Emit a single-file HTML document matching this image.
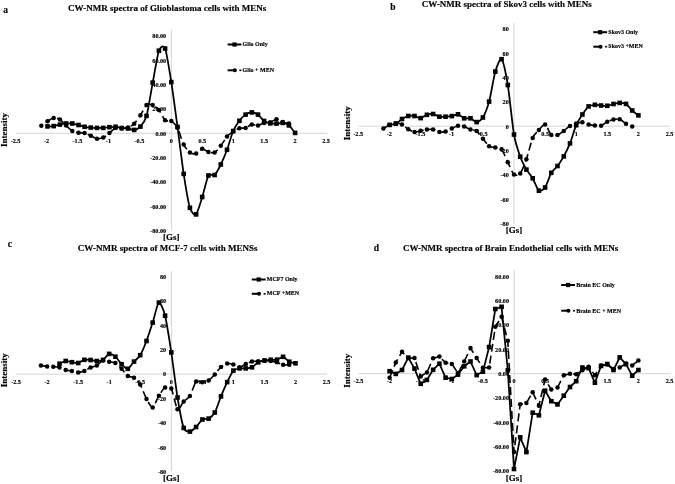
<!DOCTYPE html>
<html><head><meta charset="utf-8"><style>
html,body{margin:0;padding:0;background:#fff;}
svg{display:block;filter:blur(0.3px);}
text{font-family:"Liberation Serif","Times New Roman",serif;font-weight:bold;fill:#000;stroke:#000;stroke-width:0.15px;}
.t{font-size:9px;}
.p{font-size:9.5px;}
.tk{font-size:6.2px;}
.lg{font-size:6px;}
.ax{stroke:#d4d4d4;stroke-width:1;fill:none;}
.s1{stroke:#000;stroke-width:1.75;fill:none;stroke-linejoin:round;}
.s2{stroke:#000;stroke-width:1.6;fill:none;stroke-dasharray:8 4;stroke-linejoin:round;}
</style></head><body>
<svg width="675" height="484" viewBox="0 0 675 484">
<rect width="675" height="484" fill="#fff"/>

<text class="p" transform="translate(3.30,12.80) scale(1,1.0)">a</text>
<text class="t" transform="translate(68.00,10.90) scale(1,1.0)">CW-NMR spectra of Glioblastoma cells with MENs</text>
<text class="p" transform="translate(390.20,9.50) scale(1,1.0)">b</text>
<text class="t" transform="translate(421.70,7.40) scale(1,1.0)">CW-NMR spectra of Skov3 cells with MENs</text>
<text class="p" transform="translate(7.80,247.10) scale(1,1.0)">c</text>
<text class="t" transform="translate(77.80,251.20) scale(1,1.0)">CW-NMR spectra of MCF-7 cells with MENSs</text>
<text class="p" transform="translate(373.80,250.80) scale(1,1.0)">d</text>
<text class="t" transform="translate(402.90,250.80) scale(1,1.0)">CW-NMR spectra of Brain Endothelial cells with MENs</text>
<g id="chart-a"><line class="ax" x1="15.8" y1="133.3" x2="327.4" y2="133.3"/>
<line class="ax" x1="171.4" y1="29.6" x2="171.4" y2="230.1"/>
<text class="tk" text-anchor="end" transform="translate(166.20,38.25) scale(1,1.08)">80.00</text>
<text class="tk" text-anchor="end" transform="translate(166.20,62.60) scale(1,1.08)">60.00</text>
<text class="tk" text-anchor="end" transform="translate(166.20,86.95) scale(1,1.08)">40.00</text>
<text class="tk" text-anchor="end" transform="translate(166.20,111.30) scale(1,1.08)">20.00</text>
<text class="tk" text-anchor="end" transform="translate(166.20,135.65) scale(1,1.08)">0.00</text>
<text class="tk" text-anchor="end" transform="translate(166.20,160.00) scale(1,1.08)">-20.00</text>
<text class="tk" text-anchor="end" transform="translate(166.20,184.35) scale(1,1.08)">-40.00</text>
<text class="tk" text-anchor="end" transform="translate(166.20,208.70) scale(1,1.08)">-60.00</text>
<text class="tk" text-anchor="end" transform="translate(166.20,233.05) scale(1,1.08)">-80.00</text>
<text class="tk" text-anchor="middle" transform="translate(15.55,142.80) scale(1,1.08)">-2.5</text>
<text class="tk" text-anchor="middle" transform="translate(46.50,142.80) scale(1,1.08)">-2</text>
<text class="tk" text-anchor="middle" transform="translate(77.45,142.80) scale(1,1.08)">-1.5</text>
<text class="tk" text-anchor="middle" transform="translate(108.40,142.80) scale(1,1.08)">-1</text>
<text class="tk" text-anchor="middle" transform="translate(139.35,142.80) scale(1,1.08)">-0.5</text>
<text class="tk" text-anchor="middle" transform="translate(171.30,142.80) scale(1,1.08)">0</text>
<text class="tk" text-anchor="middle" transform="translate(202.25,142.80) scale(1,1.08)">0.5</text>
<text class="tk" text-anchor="middle" transform="translate(233.20,142.80) scale(1,1.08)">1</text>
<text class="tk" text-anchor="middle" transform="translate(264.15,142.80) scale(1,1.08)">1.5</text>
<text class="tk" text-anchor="middle" transform="translate(295.10,142.80) scale(1,1.08)">2</text>
<text class="tk" text-anchor="middle" transform="translate(326.05,142.80) scale(1,1.08)">2.5</text>
<path class="s2" style="stroke-dashoffset:6" d="M41.31,125.7 C42.05,125.17 46.01,122.24 47.5,121.3 C48.99,120.36 52.2,118.13 53.69,117.9 C55.18,117.67 58.39,118.49 59.88,119.4 C61.37,120.31 64.58,124.12 66.07,125.5 C67.56,126.88 70.77,130.04 72.26,130.9 C73.75,131.76 76.96,132.44 78.45,132.7 C79.94,132.96 83.15,132.74 84.64,133.1 C86.13,133.46 89.34,135.03 90.83,135.7 C92.32,136.37 95.53,138.47 97.02,138.7 C98.51,138.93 101.72,138.27 103.21,137.6 C104.7,136.93 107.91,134.25 109.4,133.1 C110.89,131.95 114.1,128.55 115.59,128 C117.08,127.45 120.29,128.56 121.78,128.5 C123.27,128.44 126.48,128.06 127.97,127.5 C129.46,126.94 132.67,125.26 134.16,123.8 C135.65,122.34 138.86,117.56 140.35,115.3 C141.84,113.04 145.05,106.24 146.54,105 C148.03,103.76 151.24,104.41 152.73,105 C154.22,105.59 157.43,108.06 158.92,109.9 C160.41,111.74 163.62,118.96 165.11,120.3 C166.6,121.64 169.81,120.2 171.3,121.1 C172.79,122 176,124.98 177.49,127.8 C178.98,130.62 182.19,141.64 183.68,144.6 C185.17,147.56 188.38,151.43 189.87,152.5 C191.36,153.57 194.57,153.94 196.06,153.5 C197.55,153.06 200.76,148.98 202.25,148.8 C203.74,148.62 206.95,151.56 208.44,152 C209.93,152.44 213.14,153.24 214.63,152.5 C216.12,151.76 219.33,147.71 220.82,145.8 C222.31,143.89 225.52,138.3 227.01,136.6 C228.5,134.9 231.71,132.6 233.2,131.6 C234.69,130.6 237.9,128.74 239.39,128.3 C240.88,127.86 244.09,128.36 245.58,127.9 C247.07,127.44 250.28,124.8 251.77,124.5 C253.26,124.2 256.47,125.59 257.96,125.4 C259.45,125.21 262.66,123.28 264.15,122.9 C265.64,122.52 268.85,122.64 270.34,122.2 C271.83,121.76 275.04,119.21 276.53,119.2 C278.02,119.19 281.23,121.57 282.72,122.1 C284.21,122.63 288.17,123.42 288.91,123.6"/>
<path class="s1" d="M47.5,126.4 C48.24,126.36 52.2,126.32 53.69,126.1 C55.18,125.88 58.39,124.91 59.88,124.6 C61.37,124.29 64.58,123.63 66.07,123.5 C67.56,123.37 70.77,123.32 72.26,123.5 C73.75,123.68 76.96,124.6 78.45,125 C79.94,125.4 83.15,126.49 84.64,126.8 C86.13,127.11 89.34,127.47 90.83,127.6 C92.32,127.73 95.53,127.86 97.02,127.9 C98.51,127.94 101.72,127.98 103.21,127.9 C104.7,127.82 107.91,127.33 109.4,127.2 C110.89,127.07 114.1,126.7 115.59,126.8 C117.08,126.9 120.29,127.8 121.78,128 C123.27,128.2 126.48,128.27 127.97,128.5 C129.46,128.73 132.67,130.13 134.16,129.9 C135.65,129.67 138.86,128.28 140.35,126.6 C141.84,124.92 145.05,121.18 146.54,115.9 C148.03,110.62 151.24,90.42 152.73,82.6 C154.22,74.78 157.43,54.79 158.92,50.7 C160.41,46.61 163.62,44.73 165.11,48.5 C166.6,52.27 169.81,72.7 171.3,82.1 C172.79,91.5 176,115.78 177.49,126.8 C178.98,137.82 182.19,164.18 183.68,173.9 C185.17,183.62 188.38,202.94 189.87,207.8 C191.36,212.66 194.57,215.7 196.06,214.4 C197.55,213.1 200.76,201.67 202.25,197 C203.74,192.33 206.95,178.14 208.44,175.5 C209.93,172.86 213.14,176.32 214.63,175 C216.12,173.68 219.33,167.52 220.82,164.5 C222.31,161.48 225.52,153.82 227.01,149.8 C228.5,145.78 231.71,134.48 233.2,131 C234.69,127.52 237.9,122.77 239.39,120.8 C240.88,118.83 244.09,115.61 245.58,114.6 C247.07,113.59 250.28,112.4 251.77,112.4 C253.26,112.4 256.47,113.57 257.96,114.6 C259.45,115.63 262.66,119.94 264.15,121 C265.64,122.06 268.85,123.09 270.34,123.4 C271.83,123.71 275.04,123.66 276.53,123.6 C278.02,123.54 281.23,122.68 282.72,122.9 C284.21,123.12 287.42,124.2 288.91,125.4 C290.4,126.6 294.36,132 295.1,132.9"/>
<g fill="#000"><circle cx="41.3" cy="125.7" r="2.25"/><circle cx="47.5" cy="121.3" r="2.25"/><circle cx="53.7" cy="117.9" r="2.25"/><circle cx="59.9" cy="119.4" r="2.25"/><circle cx="66.1" cy="125.5" r="2.25"/><circle cx="72.3" cy="130.9" r="2.25"/><circle cx="78.5" cy="132.7" r="2.25"/><circle cx="84.6" cy="133.1" r="2.25"/><circle cx="90.8" cy="135.7" r="2.25"/><circle cx="97.0" cy="138.7" r="2.25"/><circle cx="103.2" cy="137.6" r="2.25"/><circle cx="109.4" cy="133.1" r="2.25"/><circle cx="115.6" cy="128.0" r="2.25"/><circle cx="121.8" cy="128.5" r="2.25"/><circle cx="128.0" cy="127.5" r="2.25"/><circle cx="134.2" cy="123.8" r="2.25"/><circle cx="140.4" cy="115.3" r="2.25"/><circle cx="146.5" cy="105.0" r="2.25"/><circle cx="152.7" cy="105.0" r="2.25"/><circle cx="158.9" cy="109.9" r="2.25"/><circle cx="165.1" cy="120.3" r="2.25"/><circle cx="171.3" cy="121.1" r="2.25"/><circle cx="177.5" cy="127.8" r="2.25"/><circle cx="183.7" cy="144.6" r="2.25"/><circle cx="189.9" cy="152.5" r="2.25"/><circle cx="196.1" cy="153.5" r="2.25"/><circle cx="202.2" cy="148.8" r="2.25"/><circle cx="208.4" cy="152.0" r="2.25"/><circle cx="214.6" cy="152.5" r="2.25"/><circle cx="220.8" cy="145.8" r="2.25"/><circle cx="227.0" cy="136.6" r="2.25"/><circle cx="233.2" cy="131.6" r="2.25"/><circle cx="239.4" cy="128.3" r="2.25"/><circle cx="245.6" cy="127.9" r="2.25"/><circle cx="251.8" cy="124.5" r="2.25"/><circle cx="258.0" cy="125.4" r="2.25"/><circle cx="264.1" cy="122.9" r="2.25"/><circle cx="270.3" cy="122.2" r="2.25"/><circle cx="276.5" cy="119.2" r="2.25"/><circle cx="282.7" cy="122.1" r="2.25"/><circle cx="288.9" cy="123.6" r="2.25"/></g>
<g fill="#000"><rect x="45.2" y="124.1" width="4.6" height="4.6"/><rect x="51.4" y="123.8" width="4.6" height="4.6"/><rect x="57.6" y="122.3" width="4.6" height="4.6"/><rect x="63.8" y="121.2" width="4.6" height="4.6"/><rect x="70.0" y="121.2" width="4.6" height="4.6"/><rect x="76.2" y="122.7" width="4.6" height="4.6"/><rect x="82.3" y="124.5" width="4.6" height="4.6"/><rect x="88.5" y="125.3" width="4.6" height="4.6"/><rect x="94.7" y="125.6" width="4.6" height="4.6"/><rect x="100.9" y="125.6" width="4.6" height="4.6"/><rect x="107.1" y="124.9" width="4.6" height="4.6"/><rect x="113.3" y="124.5" width="4.6" height="4.6"/><rect x="119.5" y="125.7" width="4.6" height="4.6"/><rect x="125.7" y="126.2" width="4.6" height="4.6"/><rect x="131.9" y="127.6" width="4.6" height="4.6"/><rect x="138.1" y="124.3" width="4.6" height="4.6"/><rect x="144.2" y="113.6" width="4.6" height="4.6"/><rect x="150.4" y="80.3" width="4.6" height="4.6"/><rect x="156.6" y="48.4" width="4.6" height="4.6"/><rect x="162.8" y="46.2" width="4.6" height="4.6"/><rect x="169.0" y="79.8" width="4.6" height="4.6"/><rect x="175.2" y="124.5" width="4.6" height="4.6"/><rect x="181.4" y="171.6" width="4.6" height="4.6"/><rect x="187.6" y="205.5" width="4.6" height="4.6"/><rect x="193.8" y="212.1" width="4.6" height="4.6"/><rect x="199.9" y="194.7" width="4.6" height="4.6"/><rect x="206.1" y="173.2" width="4.6" height="4.6"/><rect x="212.3" y="172.7" width="4.6" height="4.6"/><rect x="218.5" y="162.2" width="4.6" height="4.6"/><rect x="224.7" y="147.5" width="4.6" height="4.6"/><rect x="230.9" y="128.7" width="4.6" height="4.6"/><rect x="237.1" y="118.5" width="4.6" height="4.6"/><rect x="243.3" y="112.3" width="4.6" height="4.6"/><rect x="249.5" y="110.1" width="4.6" height="4.6"/><rect x="255.7" y="112.3" width="4.6" height="4.6"/><rect x="261.8" y="118.7" width="4.6" height="4.6"/><rect x="268.0" y="121.1" width="4.6" height="4.6"/><rect x="274.2" y="121.3" width="4.6" height="4.6"/><rect x="280.4" y="120.6" width="4.6" height="4.6"/><rect x="286.6" y="123.1" width="4.6" height="4.6"/><rect x="292.8" y="130.6" width="4.6" height="4.6"/></g>
<line x1="227.6" y1="44.5" x2="241.4" y2="44.5" stroke="#000" stroke-width="2"/>
<rect x="232.4" y="42.4" width="4.2" height="4.2" fill="#000"/>
<text class="lg" transform="translate(242.60,46.10) scale(1,1.08)">Glio Only</text>
<line x1="227.6" y1="70.3" x2="234.6" y2="70.3" stroke="#000" stroke-width="2"/>
<line x1="239.4" y1="70.3" x2="241.4" y2="70.3" stroke="#000" stroke-width="1.6"/>
<circle cx="234.8" cy="70.3" r="2.05" fill="#000"/>
<text class="lg" transform="translate(242.60,71.90) scale(1,1.08)">Glio + MEN</text>
<text class="t" text-anchor="middle" transform="translate(171.30,240.30) scale(1,1.0)">[Gs]</text>
<text class="t" transform="translate(7.0,130) rotate(-90)" text-anchor="middle">Intensity</text></g>
<g id="chart-b"><line class="ax" x1="358.5" y1="126.2" x2="670" y2="126.2"/>
<line class="ax" x1="514.0" y1="22.8" x2="514.0" y2="224.5"/>
<text class="tk" text-anchor="end" transform="translate(508.80,31.15) scale(1,1.08)">80</text>
<text class="tk" text-anchor="end" transform="translate(508.80,55.50) scale(1,1.08)">60</text>
<text class="tk" text-anchor="end" transform="translate(508.80,79.85) scale(1,1.08)">40</text>
<text class="tk" text-anchor="end" transform="translate(508.80,104.20) scale(1,1.08)">20</text>
<text class="tk" text-anchor="end" transform="translate(508.80,128.55) scale(1,1.08)">0</text>
<text class="tk" text-anchor="end" transform="translate(508.80,152.90) scale(1,1.08)">-20</text>
<text class="tk" text-anchor="end" transform="translate(508.80,177.25) scale(1,1.08)">-40</text>
<text class="tk" text-anchor="end" transform="translate(508.80,201.60) scale(1,1.08)">-60</text>
<text class="tk" text-anchor="end" transform="translate(508.80,225.95) scale(1,1.08)">-80</text>
<text class="tk" text-anchor="middle" transform="translate(358.20,135.70) scale(1,1.08)">-2.5</text>
<text class="tk" text-anchor="middle" transform="translate(389.30,135.70) scale(1,1.08)">-2</text>
<text class="tk" text-anchor="middle" transform="translate(420.40,135.70) scale(1,1.08)">-1.5</text>
<text class="tk" text-anchor="middle" transform="translate(451.50,135.70) scale(1,1.08)">-1</text>
<text class="tk" text-anchor="middle" transform="translate(482.60,135.70) scale(1,1.08)">-0.5</text>
<text class="tk" text-anchor="middle" transform="translate(514.00,135.70) scale(1,1.08)">0</text>
<text class="tk" text-anchor="middle" transform="translate(545.10,135.70) scale(1,1.08)">0.5</text>
<text class="tk" text-anchor="middle" transform="translate(576.20,135.70) scale(1,1.08)">1</text>
<text class="tk" text-anchor="middle" transform="translate(607.30,135.70) scale(1,1.08)">1.5</text>
<text class="tk" text-anchor="middle" transform="translate(638.40,135.70) scale(1,1.08)">2</text>
<text class="tk" text-anchor="middle" transform="translate(669.50,135.70) scale(1,1.08)">2.5</text>
<path class="s2" style="stroke-dashoffset:0" d="M383.38,128.4 C384.13,127.99 388.11,125.61 389.6,125 C391.09,124.39 394.33,123.37 395.82,123.3 C397.31,123.23 400.55,123.68 402.04,124.4 C403.53,125.12 406.77,128.4 408.26,129.3 C409.75,130.2 412.99,131.72 414.48,131.9 C415.97,132.08 419.21,131.08 420.7,130.8 C422.19,130.52 425.43,129.77 426.92,129.6 C428.41,129.43 431.65,129.12 433.14,129.4 C434.63,129.68 437.87,131.64 439.36,131.9 C440.85,132.16 444.09,132.01 445.58,131.6 C447.07,131.19 450.31,129.2 451.8,128.5 C453.29,127.8 456.53,126.03 458.02,125.8 C459.51,125.57 462.75,126.16 464.24,126.6 C465.73,127.04 468.97,128.97 470.46,129.5 C471.95,130.03 475.19,129.9 476.68,131 C478.17,132.1 481.41,136.86 482.9,138.7 C484.39,140.54 487.63,145.24 489.12,146.3 C490.61,147.36 493.85,147.14 495.34,147.5 C496.83,147.86 500.07,147.54 501.56,149.3 C503.05,151.06 506.29,159.16 507.78,162.2 C509.27,165.24 512.51,173.26 514,174.6 C515.49,175.94 518.73,175.25 520.22,173.4 C521.71,171.55 524.95,163.46 526.44,159.2 C527.93,154.94 531.17,141.42 532.66,137.9 C534.15,134.38 537.39,131.51 538.88,129.9 C540.37,128.29 543.61,123.89 545.1,124.5 C546.59,125.11 549.83,133.74 551.32,135 C552.81,136.26 556.05,135.49 557.54,135 C559.03,134.51 562.27,131.99 563.76,130.9 C565.25,129.81 568.49,126.78 569.98,125.9 C571.47,125.02 574.71,124.03 576.2,123.6 C577.69,123.17 580.93,122.19 582.42,122.3 C583.91,122.41 587.15,124.1 588.64,124.5 C590.13,124.9 593.37,125.44 594.86,125.6 C596.35,125.76 599.59,126.27 601.08,125.8 C602.57,125.33 605.81,122.46 607.3,121.7 C608.79,120.94 612.03,119.79 613.52,119.5 C615.01,119.21 618.25,118.8 619.74,119.3 C621.23,119.8 624.47,122.82 625.96,123.7 C627.45,124.58 631.43,126.25 632.18,126.6"/>
<path class="s1" d="M389.6,124.9 C390.35,124.76 394.33,124.41 395.82,123.7 C397.31,122.99 400.55,119.92 402.04,119 C403.53,118.08 406.77,116.36 408.26,116 C409.75,115.64 412.99,115.75 414.48,116 C415.97,116.25 419.21,118.24 420.7,118.1 C422.19,117.96 425.43,115.29 426.92,114.8 C428.41,114.31 431.65,113.77 433.14,114 C434.63,114.23 437.87,116.38 439.36,116.7 C440.85,117.02 444.09,116.77 445.58,116.7 C447.07,116.63 450.31,116.39 451.8,116.1 C453.29,115.81 456.53,114.04 458.02,114.3 C459.51,114.56 462.75,117.82 464.24,118.3 C465.73,118.78 468.97,117.84 470.46,118.3 C471.95,118.76 475.19,122.2 476.68,122.1 C478.17,122 481.41,119.96 482.9,117.5 C484.39,115.04 487.63,107.11 489.12,101.6 C490.61,96.09 493.85,76.69 495.34,71.6 C496.83,66.51 500.07,57.59 501.56,59.2 C503.05,60.81 506.29,75.96 507.78,85 C509.27,94.04 512.51,125.9 514,134.5 C515.49,143.1 518.73,152.49 520.22,156.7 C521.71,160.91 524.95,167.01 526.44,169.6 C527.93,172.19 531.17,175.77 532.66,178.3 C534.15,180.83 537.39,189.6 538.88,190.7 C540.37,191.8 543.61,189.65 545.1,187.5 C546.59,185.35 549.83,175.38 551.32,172.8 C552.81,170.22 556.05,167.97 557.54,166 C559.03,164.03 562.27,159.11 563.76,156.4 C565.25,153.69 568.49,147.14 569.98,143.4 C571.47,139.66 574.71,128.67 576.2,125.2 C577.69,121.73 580.93,116.76 582.42,114.5 C583.91,112.24 587.15,107.56 588.64,106.4 C590.13,105.24 593.37,104.91 594.86,104.8 C596.35,104.69 599.59,105.38 601.08,105.5 C602.57,105.62 605.81,105.98 607.3,105.8 C608.79,105.62 612.03,104.35 613.52,104 C615.01,103.65 618.25,102.91 619.74,102.9 C621.23,102.89 624.47,102.99 625.96,103.9 C627.45,104.81 630.69,109.12 632.18,110.5 C633.67,111.88 637.65,114.81 638.4,115.4"/>
<g fill="#000"><circle cx="383.4" cy="128.4" r="2.25"/><circle cx="389.6" cy="125.0" r="2.25"/><circle cx="395.8" cy="123.3" r="2.25"/><circle cx="402.0" cy="124.4" r="2.25"/><circle cx="408.3" cy="129.3" r="2.25"/><circle cx="414.5" cy="131.9" r="2.25"/><circle cx="420.7" cy="130.8" r="2.25"/><circle cx="426.9" cy="129.6" r="2.25"/><circle cx="433.1" cy="129.4" r="2.25"/><circle cx="439.4" cy="131.9" r="2.25"/><circle cx="445.6" cy="131.6" r="2.25"/><circle cx="451.8" cy="128.5" r="2.25"/><circle cx="458.0" cy="125.8" r="2.25"/><circle cx="464.2" cy="126.6" r="2.25"/><circle cx="470.5" cy="129.5" r="2.25"/><circle cx="476.7" cy="131.0" r="2.25"/><circle cx="482.9" cy="138.7" r="2.25"/><circle cx="489.1" cy="146.3" r="2.25"/><circle cx="495.3" cy="147.5" r="2.25"/><circle cx="501.6" cy="149.3" r="2.25"/><circle cx="507.8" cy="162.2" r="2.25"/><circle cx="514.0" cy="174.6" r="2.25"/><circle cx="520.2" cy="173.4" r="2.25"/><circle cx="526.4" cy="159.2" r="2.25"/><circle cx="532.7" cy="137.9" r="2.25"/><circle cx="538.9" cy="129.9" r="2.25"/><circle cx="545.1" cy="124.5" r="2.25"/><circle cx="551.3" cy="135.0" r="2.25"/><circle cx="557.5" cy="135.0" r="2.25"/><circle cx="563.8" cy="130.9" r="2.25"/><circle cx="570.0" cy="125.9" r="2.25"/><circle cx="576.2" cy="123.6" r="2.25"/><circle cx="582.4" cy="122.3" r="2.25"/><circle cx="588.6" cy="124.5" r="2.25"/><circle cx="594.9" cy="125.6" r="2.25"/><circle cx="601.1" cy="125.8" r="2.25"/><circle cx="607.3" cy="121.7" r="2.25"/><circle cx="613.5" cy="119.5" r="2.25"/><circle cx="619.7" cy="119.3" r="2.25"/><circle cx="626.0" cy="123.7" r="2.25"/><circle cx="632.2" cy="126.6" r="2.25"/></g>
<g fill="#000"><rect x="387.3" y="122.6" width="4.6" height="4.6"/><rect x="393.5" y="121.4" width="4.6" height="4.6"/><rect x="399.7" y="116.7" width="4.6" height="4.6"/><rect x="406.0" y="113.7" width="4.6" height="4.6"/><rect x="412.2" y="113.7" width="4.6" height="4.6"/><rect x="418.4" y="115.8" width="4.6" height="4.6"/><rect x="424.6" y="112.5" width="4.6" height="4.6"/><rect x="430.8" y="111.7" width="4.6" height="4.6"/><rect x="437.1" y="114.4" width="4.6" height="4.6"/><rect x="443.3" y="114.4" width="4.6" height="4.6"/><rect x="449.5" y="113.8" width="4.6" height="4.6"/><rect x="455.7" y="112.0" width="4.6" height="4.6"/><rect x="461.9" y="116.0" width="4.6" height="4.6"/><rect x="468.2" y="116.0" width="4.6" height="4.6"/><rect x="474.4" y="119.8" width="4.6" height="4.6"/><rect x="480.6" y="115.2" width="4.6" height="4.6"/><rect x="486.8" y="99.3" width="4.6" height="4.6"/><rect x="493.0" y="69.3" width="4.6" height="4.6"/><rect x="499.3" y="56.9" width="4.6" height="4.6"/><rect x="505.5" y="82.7" width="4.6" height="4.6"/><rect x="511.7" y="132.2" width="4.6" height="4.6"/><rect x="517.9" y="154.4" width="4.6" height="4.6"/><rect x="524.1" y="167.3" width="4.6" height="4.6"/><rect x="530.4" y="176.0" width="4.6" height="4.6"/><rect x="536.6" y="188.4" width="4.6" height="4.6"/><rect x="542.8" y="185.2" width="4.6" height="4.6"/><rect x="549.0" y="170.5" width="4.6" height="4.6"/><rect x="555.2" y="163.7" width="4.6" height="4.6"/><rect x="561.5" y="154.1" width="4.6" height="4.6"/><rect x="567.7" y="141.1" width="4.6" height="4.6"/><rect x="573.9" y="122.9" width="4.6" height="4.6"/><rect x="580.1" y="112.2" width="4.6" height="4.6"/><rect x="586.3" y="104.1" width="4.6" height="4.6"/><rect x="592.6" y="102.5" width="4.6" height="4.6"/><rect x="598.8" y="103.2" width="4.6" height="4.6"/><rect x="605.0" y="103.5" width="4.6" height="4.6"/><rect x="611.2" y="101.7" width="4.6" height="4.6"/><rect x="617.4" y="100.6" width="4.6" height="4.6"/><rect x="623.7" y="101.6" width="4.6" height="4.6"/><rect x="629.9" y="108.2" width="4.6" height="4.6"/><rect x="636.1" y="113.1" width="4.6" height="4.6"/></g>
<line x1="593.3" y1="32.2" x2="607.1" y2="32.2" stroke="#000" stroke-width="2"/>
<rect x="598.1" y="30.1" width="4.2" height="4.2" fill="#000"/>
<text class="lg" transform="translate(608.30,33.80) scale(1,1.08)">Skov3 Only</text>
<line x1="593.3" y1="46.7" x2="600.3" y2="46.7" stroke="#000" stroke-width="2"/>
<line x1="605.1" y1="46.7" x2="607.1" y2="46.7" stroke="#000" stroke-width="1.6"/>
<circle cx="600.5" cy="46.7" r="2.05" fill="#000"/>
<text class="lg" transform="translate(608.30,48.30) scale(1,1.08)">Skov3 +MEN</text>
<text class="t" text-anchor="middle" transform="translate(514.00,233.30) scale(1,1.0)">[Gs]</text>
<text class="t" transform="translate(349.6,123.3) rotate(-90)" text-anchor="middle">Intensity</text></g>
<g id="chart-c"><line class="ax" x1="15.6" y1="374.1" x2="327" y2="374.1"/>
<line class="ax" x1="171.4" y1="270.9" x2="171.4" y2="471.2"/>
<text class="tk" text-anchor="end" transform="translate(166.20,279.05) scale(1,1.08)">80</text>
<text class="tk" text-anchor="end" transform="translate(166.20,303.40) scale(1,1.08)">60</text>
<text class="tk" text-anchor="end" transform="translate(166.20,327.75) scale(1,1.08)">40</text>
<text class="tk" text-anchor="end" transform="translate(166.20,352.10) scale(1,1.08)">20</text>
<text class="tk" text-anchor="end" transform="translate(166.20,376.45) scale(1,1.08)">0</text>
<text class="tk" text-anchor="end" transform="translate(166.20,400.80) scale(1,1.08)">-20</text>
<text class="tk" text-anchor="end" transform="translate(166.20,425.15) scale(1,1.08)">-40</text>
<text class="tk" text-anchor="end" transform="translate(166.20,449.50) scale(1,1.08)">-60</text>
<text class="tk" text-anchor="end" transform="translate(166.20,473.85) scale(1,1.08)">-80</text>
<text class="tk" text-anchor="middle" transform="translate(16.05,383.60) scale(1,1.08)">-2.5</text>
<text class="tk" text-anchor="middle" transform="translate(47.10,383.60) scale(1,1.08)">-2</text>
<text class="tk" text-anchor="middle" transform="translate(78.15,383.60) scale(1,1.08)">-1.5</text>
<text class="tk" text-anchor="middle" transform="translate(109.20,383.60) scale(1,1.08)">-1</text>
<text class="tk" text-anchor="middle" transform="translate(140.25,383.60) scale(1,1.08)">-0.5</text>
<text class="tk" text-anchor="middle" transform="translate(171.30,383.60) scale(1,1.08)">0</text>
<text class="tk" text-anchor="middle" transform="translate(202.35,383.60) scale(1,1.08)">0.5</text>
<text class="tk" text-anchor="middle" transform="translate(233.40,383.60) scale(1,1.08)">1</text>
<text class="tk" text-anchor="middle" transform="translate(264.45,383.60) scale(1,1.08)">1.5</text>
<text class="tk" text-anchor="middle" transform="translate(295.50,383.60) scale(1,1.08)">2</text>
<text class="tk" text-anchor="middle" transform="translate(326.55,383.60) scale(1,1.08)">2.5</text>
<path class="s2" style="stroke-dashoffset:0" d="M40.89,365.5 C41.64,365.61 45.61,366.26 47.1,366.4 C48.59,366.54 51.82,366.58 53.31,366.7 C54.8,366.82 58.03,367.02 59.52,367.4 C61.01,367.78 64.24,369.46 65.73,369.9 C67.22,370.34 70.45,370.78 71.94,371.1 C73.43,371.42 76.66,372.62 78.15,372.6 C79.64,372.58 82.87,371.5 84.36,370.9 C85.85,370.3 89.08,368.26 90.57,367.6 C92.06,366.94 95.29,366.25 96.78,365.4 C98.27,364.55 101.5,360.94 102.99,360.5 C104.48,360.06 107.71,361.4 109.2,361.7 C110.69,362 113.92,362.15 115.41,363 C116.9,363.85 120.13,367.24 121.62,368.8 C123.11,370.36 126.34,374.93 127.83,376 C129.32,377.07 132.55,376.68 134.04,377.7 C135.53,378.72 138.76,381.96 140.25,384.5 C141.74,387.04 144.97,396.15 146.46,398.9 C147.95,401.65 151.18,407.78 152.67,407.4 C154.16,407.02 157.39,398.1 158.88,395.7 C160.37,393.3 163.6,388.25 165.09,387.4 C166.58,386.55 169.81,385.97 171.3,388.6 C172.79,391.23 176.02,407.76 177.51,409.3 C179,410.84 182.23,403 183.72,401.4 C185.21,399.8 188.44,398.4 189.93,396 C191.42,393.6 194.65,383.04 196.14,381.4 C197.63,379.76 200.86,382.41 202.35,382.3 C203.84,382.19 207.07,381.45 208.56,380.5 C210.05,379.55 213.28,376.02 214.77,374.4 C216.26,372.78 219.49,368.31 220.98,367 C222.47,365.69 225.7,363.8 227.19,363.5 C228.68,363.2 231.91,364.04 233.4,364.5 C234.89,364.96 238.12,367.36 239.61,367.3 C241.1,367.24 244.33,364.7 245.82,364 C247.31,363.3 250.54,361.84 252.03,361.5 C253.52,361.16 256.75,361.32 258.24,361.2 C259.73,361.08 262.96,360.51 264.45,360.5 C265.94,360.49 269.17,360.88 270.66,361.1 C272.15,361.32 275.38,361.86 276.87,362.3 C278.36,362.74 281.59,364.5 283.08,364.8 C284.57,365.1 288.54,364.8 289.29,364.8"/>
<path class="s1" d="M59.52,363.7 C60.27,363.38 64.24,361.18 65.73,361 C67.22,360.82 70.45,361.96 71.94,362.2 C73.43,362.44 76.66,363.29 78.15,363 C79.64,362.71 82.87,360.16 84.36,359.8 C85.85,359.44 89.08,359.86 90.57,360 C92.06,360.14 95.29,361.01 96.78,361 C98.27,360.99 101.5,360.75 102.99,359.9 C104.48,359.05 107.71,354.28 109.2,353.9 C110.69,353.52 113.92,355.46 115.41,356.7 C116.9,357.94 120.13,362.75 121.62,364.2 C123.11,365.65 126.34,369.11 127.83,368.8 C129.32,368.49 132.55,363.23 134.04,361.6 C135.53,359.97 138.76,357.67 140.25,355.2 C141.74,352.73 144.97,344.91 146.46,341 C147.95,337.09 151.18,327.21 152.67,322.6 C154.16,317.99 157.39,303.43 158.88,302.6 C160.37,301.77 163.6,309.72 165.09,315.7 C166.58,321.68 169.81,342.58 171.3,352.4 C172.79,362.22 176.02,388.44 177.51,397.5 C179,406.56 182.23,423.81 183.72,427.9 C185.21,431.99 188.44,431.71 189.93,431.6 C191.42,431.49 194.65,428.45 196.14,427 C197.63,425.55 200.86,420.51 202.35,419.5 C203.84,418.49 207.07,419.44 208.56,418.6 C210.05,417.76 213.28,415.16 214.77,412.5 C216.26,409.84 219.49,400.05 220.98,396.4 C222.47,392.75 225.7,385.2 227.19,382.1 C228.68,379 231.91,372.24 233.4,370.6 C234.89,368.96 238.12,368.66 239.61,368.4 C241.1,368.14 244.33,368.53 245.82,368.4 C247.31,368.27 250.54,368.03 252.03,367.3 C253.52,366.57 256.75,363.12 258.24,362.3 C259.73,361.48 262.96,360.8 264.45,360.5 C265.94,360.2 269.17,359.9 270.66,359.8 C272.15,359.7 275.38,360.06 276.87,359.7 C278.36,359.34 281.59,356.56 283.08,356.8 C284.57,357.04 287.8,360.92 289.29,361.7 C290.78,362.48 294.75,363.11 295.5,363.3"/>
<g fill="#000"><circle cx="40.9" cy="365.5" r="2.25"/><circle cx="47.1" cy="366.4" r="2.25"/><circle cx="53.3" cy="366.7" r="2.25"/><circle cx="59.5" cy="367.4" r="2.25"/><circle cx="65.7" cy="369.9" r="2.25"/><circle cx="71.9" cy="371.1" r="2.25"/><circle cx="78.2" cy="372.6" r="2.25"/><circle cx="84.4" cy="370.9" r="2.25"/><circle cx="90.6" cy="367.6" r="2.25"/><circle cx="96.8" cy="365.4" r="2.25"/><circle cx="103.0" cy="360.5" r="2.25"/><circle cx="109.2" cy="361.7" r="2.25"/><circle cx="115.4" cy="363.0" r="2.25"/><circle cx="121.6" cy="368.8" r="2.25"/><circle cx="127.8" cy="376.0" r="2.25"/><circle cx="134.0" cy="377.7" r="2.25"/><circle cx="140.2" cy="384.5" r="2.25"/><circle cx="146.5" cy="398.9" r="2.25"/><circle cx="152.7" cy="407.4" r="2.25"/><circle cx="158.9" cy="395.7" r="2.25"/><circle cx="165.1" cy="387.4" r="2.25"/><circle cx="171.3" cy="388.6" r="2.25"/><circle cx="177.5" cy="409.3" r="2.25"/><circle cx="183.7" cy="401.4" r="2.25"/><circle cx="189.9" cy="396.0" r="2.25"/><circle cx="196.1" cy="381.4" r="2.25"/><circle cx="202.4" cy="382.3" r="2.25"/><circle cx="208.6" cy="380.5" r="2.25"/><circle cx="214.8" cy="374.4" r="2.25"/><circle cx="221.0" cy="367.0" r="2.25"/><circle cx="227.2" cy="363.5" r="2.25"/><circle cx="233.4" cy="364.5" r="2.25"/><circle cx="239.6" cy="367.3" r="2.25"/><circle cx="245.8" cy="364.0" r="2.25"/><circle cx="252.0" cy="361.5" r="2.25"/><circle cx="258.2" cy="361.2" r="2.25"/><circle cx="264.5" cy="360.5" r="2.25"/><circle cx="270.7" cy="361.1" r="2.25"/><circle cx="276.9" cy="362.3" r="2.25"/><circle cx="283.1" cy="364.8" r="2.25"/><circle cx="289.3" cy="364.8" r="2.25"/></g>
<g fill="#000"><rect x="57.2" y="361.4" width="4.6" height="4.6"/><rect x="63.4" y="358.7" width="4.6" height="4.6"/><rect x="69.6" y="359.9" width="4.6" height="4.6"/><rect x="75.9" y="360.7" width="4.6" height="4.6"/><rect x="82.1" y="357.5" width="4.6" height="4.6"/><rect x="88.3" y="357.7" width="4.6" height="4.6"/><rect x="94.5" y="358.7" width="4.6" height="4.6"/><rect x="100.7" y="357.6" width="4.6" height="4.6"/><rect x="106.9" y="351.6" width="4.6" height="4.6"/><rect x="113.1" y="354.4" width="4.6" height="4.6"/><rect x="119.3" y="361.9" width="4.6" height="4.6"/><rect x="125.5" y="366.5" width="4.6" height="4.6"/><rect x="131.7" y="359.3" width="4.6" height="4.6"/><rect x="137.9" y="352.9" width="4.6" height="4.6"/><rect x="144.2" y="338.7" width="4.6" height="4.6"/><rect x="150.4" y="320.3" width="4.6" height="4.6"/><rect x="156.6" y="300.3" width="4.6" height="4.6"/><rect x="162.8" y="313.4" width="4.6" height="4.6"/><rect x="169.0" y="350.1" width="4.6" height="4.6"/><rect x="175.2" y="395.2" width="4.6" height="4.6"/><rect x="181.4" y="425.6" width="4.6" height="4.6"/><rect x="187.6" y="429.3" width="4.6" height="4.6"/><rect x="193.8" y="424.7" width="4.6" height="4.6"/><rect x="200.1" y="417.2" width="4.6" height="4.6"/><rect x="206.3" y="416.3" width="4.6" height="4.6"/><rect x="212.5" y="410.2" width="4.6" height="4.6"/><rect x="218.7" y="394.1" width="4.6" height="4.6"/><rect x="224.9" y="379.8" width="4.6" height="4.6"/><rect x="231.1" y="368.3" width="4.6" height="4.6"/><rect x="237.3" y="366.1" width="4.6" height="4.6"/><rect x="243.5" y="366.1" width="4.6" height="4.6"/><rect x="249.7" y="365.0" width="4.6" height="4.6"/><rect x="255.9" y="360.0" width="4.6" height="4.6"/><rect x="262.2" y="358.2" width="4.6" height="4.6"/><rect x="268.4" y="357.5" width="4.6" height="4.6"/><rect x="274.6" y="357.4" width="4.6" height="4.6"/><rect x="280.8" y="354.5" width="4.6" height="4.6"/><rect x="287.0" y="359.4" width="4.6" height="4.6"/><rect x="293.2" y="361.0" width="4.6" height="4.6"/></g>
<line x1="251.8" y1="279.5" x2="265.6" y2="279.5" stroke="#000" stroke-width="2"/>
<rect x="256.6" y="277.4" width="4.2" height="4.2" fill="#000"/>
<text class="lg" transform="translate(266.80,281.10) scale(1,1.08)">MCF7 Only</text>
<line x1="251.8" y1="293.8" x2="258.8" y2="293.8" stroke="#000" stroke-width="2"/>
<line x1="263.6" y1="293.8" x2="265.6" y2="293.8" stroke="#000" stroke-width="1.6"/>
<circle cx="259.0" cy="293.8" r="2.05" fill="#000"/>
<text class="lg" transform="translate(266.80,295.40) scale(1,1.08)">MCF +MEN</text>
<text class="t" text-anchor="middle" transform="translate(171.30,481.00) scale(1,1.0)">[Gs]</text>
<text class="t" transform="translate(7.3,370.3) rotate(-90)" text-anchor="middle">Intensity</text></g>
<g id="chart-d"><line class="ax" x1="358.5" y1="373.6" x2="670" y2="373.6"/>
<line class="ax" x1="514.2" y1="269.9" x2="514.2" y2="470.8"/>
<text class="tk" text-anchor="end" transform="translate(509.00,278.55) scale(1,1.08)">80.00</text>
<text class="tk" text-anchor="end" transform="translate(509.00,302.90) scale(1,1.08)">60.00</text>
<text class="tk" text-anchor="end" transform="translate(509.00,327.25) scale(1,1.08)">40.00</text>
<text class="tk" text-anchor="end" transform="translate(509.00,351.60) scale(1,1.08)">20.00</text>
<text class="tk" text-anchor="end" transform="translate(509.00,375.95) scale(1,1.08)">0.00</text>
<text class="tk" text-anchor="end" transform="translate(509.00,400.30) scale(1,1.08)">-20.00</text>
<text class="tk" text-anchor="end" transform="translate(509.00,424.65) scale(1,1.08)">-40.00</text>
<text class="tk" text-anchor="end" transform="translate(509.00,449.00) scale(1,1.08)">-60.00</text>
<text class="tk" text-anchor="end" transform="translate(509.00,473.35) scale(1,1.08)">-80.00</text>
<text class="tk" text-anchor="middle" transform="translate(358.50,383.10) scale(1,1.08)">-2.5</text>
<text class="tk" text-anchor="middle" transform="translate(389.60,383.10) scale(1,1.08)">-2</text>
<text class="tk" text-anchor="middle" transform="translate(420.70,383.10) scale(1,1.08)">-1.5</text>
<text class="tk" text-anchor="middle" transform="translate(451.80,383.10) scale(1,1.08)">-1</text>
<text class="tk" text-anchor="middle" transform="translate(482.90,383.10) scale(1,1.08)">-0.5</text>
<text class="tk" text-anchor="middle" transform="translate(514.00,383.10) scale(1,1.08)">0</text>
<text class="tk" text-anchor="middle" transform="translate(545.10,383.10) scale(1,1.08)">0.5</text>
<text class="tk" text-anchor="middle" transform="translate(576.20,383.10) scale(1,1.08)">1</text>
<text class="tk" text-anchor="middle" transform="translate(607.30,383.10) scale(1,1.08)">1.5</text>
<text class="tk" text-anchor="middle" transform="translate(638.40,383.10) scale(1,1.08)">2</text>
<text class="tk" text-anchor="middle" transform="translate(669.50,383.10) scale(1,1.08)">2.5</text>
<path class="s2" style="stroke-dashoffset:0" d="M389.6,377.7 L395.82,362.6 L402.04,351.8 L408.26,358 L414.48,358.1 L420.7,376.4 L426.92,372.4 L433.14,358.2 L439.36,356.6 L445.58,362.7 L451.8,364 L458.02,373.1 L464.24,361.5 L470.46,348.1 L476.68,358.1 L482.9,367.7 L489.12,367.6 L495.34,326.7 L501.56,316.8 L507.78,340.7 L514,452 L520.22,404.3 L526.44,403 L532.66,392.2 L538.88,405.8 L545.1,379.4 L551.32,389.6 L557.54,387.5 L563.76,375.2 L569.98,373.8 L576.2,374.2 L582.42,370.3 L588.64,366.7 L594.86,375.2 L601.08,365.4 L607.3,364.5 L613.52,369 L619.74,367.5 L625.96,363.6 L632.18,365.4 L638.4,360.5"/>
<path class="s1" d="M389.6,371.2 L395.82,373.9 L402.04,370 L408.26,357.6 L414.48,368.6 L420.7,383.8 L426.92,379.9 L433.14,369.8 L439.36,363.7 L445.58,377.7 L451.8,379 L458.02,374.6 L464.24,366.3 L470.46,361.5 L476.68,375.1 L482.9,371.7 L489.12,347.1 L495.34,309 L501.56,306.8 L507.78,370.2 L514,469 L520.22,437.3 L526.44,452.1 L532.66,412.7 L538.88,415.3 L545.1,390.7 L551.32,401.2 L557.54,404.4 L563.76,395.7 L569.98,387 L576.2,381.2 L582.42,367.5 L588.64,368.2 L594.86,382.7 L601.08,366 L607.3,364 L613.52,370 L619.74,357.4 L625.96,364.2 L632.18,375.7 L638.4,370"/>
<g fill="#000"><circle cx="389.6" cy="377.7" r="2.25"/><circle cx="395.8" cy="362.6" r="2.25"/><circle cx="402.0" cy="351.8" r="2.25"/><circle cx="408.3" cy="358.0" r="2.25"/><circle cx="414.5" cy="358.1" r="2.25"/><circle cx="420.7" cy="376.4" r="2.25"/><circle cx="426.9" cy="372.4" r="2.25"/><circle cx="433.1" cy="358.2" r="2.25"/><circle cx="439.4" cy="356.6" r="2.25"/><circle cx="445.6" cy="362.7" r="2.25"/><circle cx="451.8" cy="364.0" r="2.25"/><circle cx="458.0" cy="373.1" r="2.25"/><circle cx="464.2" cy="361.5" r="2.25"/><circle cx="470.5" cy="348.1" r="2.25"/><circle cx="476.7" cy="358.1" r="2.25"/><circle cx="482.9" cy="367.7" r="2.25"/><circle cx="489.1" cy="367.6" r="2.25"/><circle cx="495.3" cy="326.7" r="2.25"/><circle cx="501.6" cy="316.8" r="2.25"/><circle cx="507.8" cy="340.7" r="2.25"/><circle cx="514.0" cy="452.0" r="2.25"/><circle cx="520.2" cy="404.3" r="2.25"/><circle cx="526.4" cy="403.0" r="2.25"/><circle cx="532.7" cy="392.2" r="2.25"/><circle cx="538.9" cy="405.8" r="2.25"/><circle cx="545.1" cy="379.4" r="2.25"/><circle cx="551.3" cy="389.6" r="2.25"/><circle cx="557.5" cy="387.5" r="2.25"/><circle cx="563.8" cy="375.2" r="2.25"/><circle cx="570.0" cy="373.8" r="2.25"/><circle cx="576.2" cy="374.2" r="2.25"/><circle cx="582.4" cy="370.3" r="2.25"/><circle cx="588.6" cy="366.7" r="2.25"/><circle cx="594.9" cy="375.2" r="2.25"/><circle cx="601.1" cy="365.4" r="2.25"/><circle cx="607.3" cy="364.5" r="2.25"/><circle cx="613.5" cy="369.0" r="2.25"/><circle cx="619.7" cy="367.5" r="2.25"/><circle cx="626.0" cy="363.6" r="2.25"/><circle cx="632.2" cy="365.4" r="2.25"/><circle cx="638.4" cy="360.5" r="2.25"/></g>
<g fill="#000"><rect x="387.3" y="368.9" width="4.6" height="4.6"/><rect x="393.5" y="371.6" width="4.6" height="4.6"/><rect x="399.7" y="367.7" width="4.6" height="4.6"/><rect x="406.0" y="355.3" width="4.6" height="4.6"/><rect x="412.2" y="366.3" width="4.6" height="4.6"/><rect x="418.4" y="381.5" width="4.6" height="4.6"/><rect x="424.6" y="377.6" width="4.6" height="4.6"/><rect x="430.8" y="367.5" width="4.6" height="4.6"/><rect x="437.1" y="361.4" width="4.6" height="4.6"/><rect x="443.3" y="375.4" width="4.6" height="4.6"/><rect x="449.5" y="376.7" width="4.6" height="4.6"/><rect x="455.7" y="372.3" width="4.6" height="4.6"/><rect x="461.9" y="364.0" width="4.6" height="4.6"/><rect x="468.2" y="359.2" width="4.6" height="4.6"/><rect x="474.4" y="372.8" width="4.6" height="4.6"/><rect x="480.6" y="369.4" width="4.6" height="4.6"/><rect x="486.8" y="344.8" width="4.6" height="4.6"/><rect x="493.0" y="306.7" width="4.6" height="4.6"/><rect x="499.3" y="304.5" width="4.6" height="4.6"/><rect x="505.5" y="367.9" width="4.6" height="4.6"/><rect x="511.7" y="466.7" width="4.6" height="4.6"/><rect x="517.9" y="435.0" width="4.6" height="4.6"/><rect x="524.1" y="449.8" width="4.6" height="4.6"/><rect x="530.4" y="410.4" width="4.6" height="4.6"/><rect x="536.6" y="413.0" width="4.6" height="4.6"/><rect x="542.8" y="388.4" width="4.6" height="4.6"/><rect x="549.0" y="398.9" width="4.6" height="4.6"/><rect x="555.2" y="402.1" width="4.6" height="4.6"/><rect x="561.5" y="393.4" width="4.6" height="4.6"/><rect x="567.7" y="384.7" width="4.6" height="4.6"/><rect x="573.9" y="378.9" width="4.6" height="4.6"/><rect x="580.1" y="365.2" width="4.6" height="4.6"/><rect x="586.3" y="365.9" width="4.6" height="4.6"/><rect x="592.6" y="380.4" width="4.6" height="4.6"/><rect x="598.8" y="363.7" width="4.6" height="4.6"/><rect x="605.0" y="361.7" width="4.6" height="4.6"/><rect x="611.2" y="367.7" width="4.6" height="4.6"/><rect x="617.4" y="355.1" width="4.6" height="4.6"/><rect x="623.7" y="361.9" width="4.6" height="4.6"/><rect x="629.9" y="373.4" width="4.6" height="4.6"/><rect x="636.1" y="367.7" width="4.6" height="4.6"/></g>
<line x1="561.2" y1="285.0" x2="575.0" y2="285.0" stroke="#000" stroke-width="2"/>
<rect x="566.0" y="282.9" width="4.2" height="4.2" fill="#000"/>
<text class="lg" transform="translate(576.20,286.90) scale(1,1.08)">Brain EC Only</text>
<line x1="561.2" y1="310.7" x2="568.2" y2="310.7" stroke="#000" stroke-width="2"/>
<line x1="573.0" y1="310.7" x2="575.0" y2="310.7" stroke="#000" stroke-width="1.6"/>
<circle cx="568.4" cy="310.7" r="2.05" fill="#000"/>
<text class="lg" transform="translate(576.20,312.60) scale(1,1.08)">Brain EC + MEN</text>
<text class="t" text-anchor="middle" transform="translate(514.00,481.00) scale(1,1.0)">[Gs]</text>
<text class="t" transform="translate(349.6,370.7) rotate(-90)" text-anchor="middle">Intensity</text></g>
</svg></body></html>
